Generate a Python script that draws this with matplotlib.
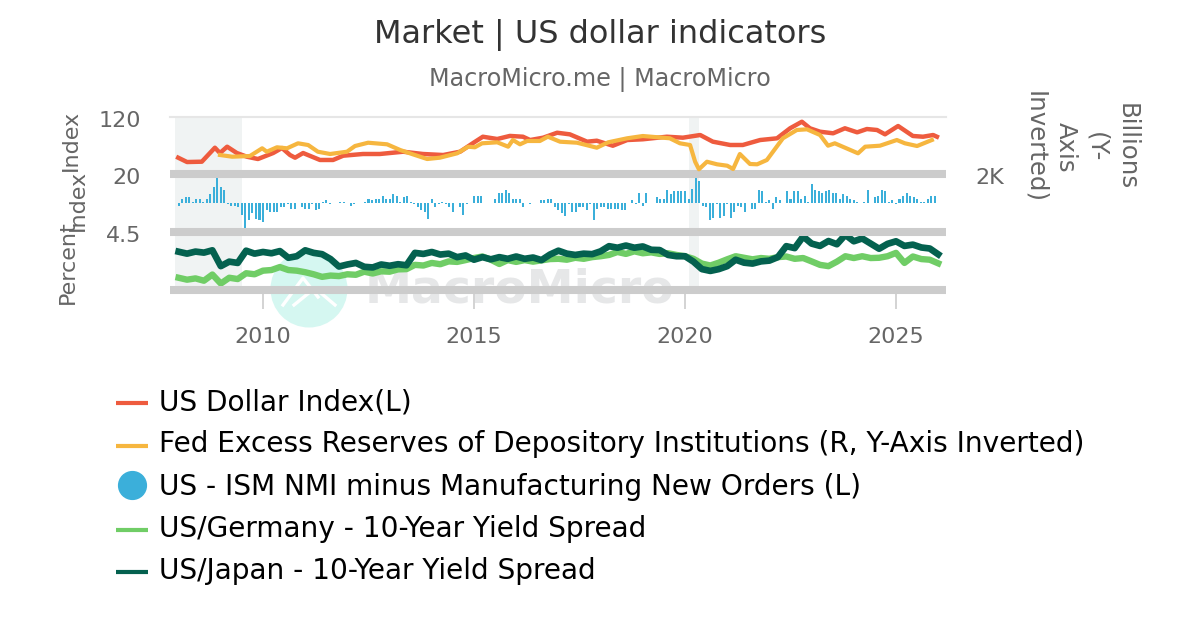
# Market | US dollar indicators, three stacked panels sharing one time axis
import numpy as np
import matplotlib
matplotlib.use("Agg")
import matplotlib.pyplot as plt
from matplotlib.lines import Line2D
from matplotlib.patches import Circle
from matplotlib.transforms import ScaledTranslation

# values, dates as decimal years
dxy_dates = [2007.99, 2008.20, 2008.55, 2008.86, 2008.98, 2009.15, 2009.38, 2009.62, 2009.88, 2010.24,
             2010.45, 2010.64, 2010.76, 2010.95, 2011.35, 2011.66, 2011.90, 2012.37, 2012.77, 2013.32,
             2013.79, 2014.27, 2014.67, 2014.98, 2015.21, 2015.55, 2015.85, 2016.16, 2016.33, 2016.64,
             2016.97, 2017.27, 2017.68, 2017.91, 2018.29, 2018.63, 2019.00, 2019.57, 2019.95, 2020.36,
             2020.66, 2021.07, 2021.37, 2021.78, 2022.18, 2022.49, 2022.77, 2022.96, 2023.20, 2023.51,
             2023.79, 2024.08, 2024.31, 2024.55, 2024.74, 2025.05, 2025.40, 2025.64, 2025.88, 2025.97]
dxy = [48.6, 41.0, 41.6, 66.1, 56.8, 67.9, 56.8, 50.3, 46.3, 56.8,
       65.6, 53.3, 48.6, 56.8, 44.6, 44.6, 52.1, 55.1, 55.1, 59.1,
       55.1, 53.3, 59.1, 74.4, 85.4, 81.4, 86.8, 85.4, 79.6, 83.7,
       92.4, 89.6, 76.7, 78.4, 69.6, 79.6, 80.9, 85.4, 83.7, 88.4,
       76.7, 70.9, 70.9, 79.6, 82.6, 100.2, 111.7, 100.2, 94.2, 91.4,
       100.2, 93.1, 98.9, 97.2, 89.6, 104.2, 86.7, 85.4, 88.4, 85.4]

res_dates = [2008.98, 2009.27, 2009.69, 2009.98, 2010.09, 2010.33, 2010.57, 2010.83, 2011.07, 2011.30,
             2011.59, 2011.99, 2012.18, 2012.49, 2012.94, 2013.25, 2013.55, 2013.89, 2014.19, 2014.60,
             2014.86, 2015.02, 2015.19, 2015.55, 2015.81, 2015.92, 2016.09, 2016.26, 2016.56, 2016.75,
             2017.04, 2017.44, 2017.91, 2018.18, 2018.63, 2019.00, 2019.64, 2019.88, 2020.12, 2020.24,
             2020.33, 2020.52, 2020.76, 2021.00, 2021.14, 2021.30, 2021.54, 2021.71, 2021.94, 2022.32,
             2022.65, 2022.89, 2023.20, 2023.39, 2023.55, 2024.10, 2024.27, 2024.62, 2025.02, 2025.21,
             2025.50, 2025.85]
reserves = [1333, 1393, 1369, 1098, 1218, 1063, 1098, 923, 983, 1218,
            1298, 1218, 1018, 902, 958, 1158, 1309, 1474, 1428, 1274,
            1042, 1063, 923, 888, 1042, 807, 958, 842, 842, 691,
            867, 902, 1077, 888, 747, 667, 747, 923, 983, 1569,
            1835, 1569, 1660, 1709, 1825, 1298, 1649, 1660, 1509, 747,
            456, 432, 632, 1007, 923, 1274, 1042, 1007, 807, 923,
            1018, 807]

# ISM spread, one value per month from Jan 2008 to Dec 2025
ism_start = 2008.0
ism = [-2, 3, 4, 4, 1, 3, 3, 1, 3, 6, 11, 17,
       11, 9, -1, -2, -2, -3, -8, -17, -12, -7, -11, -12,
       -13, -5, -6, -6, -6, -3, -3, -1, -4, -4, 0, -3,
       -4, -4, -1, -5, -4, 1, 2, -1, 0, 0, 1, 1,
       0, -2, -1, 0, 0, 1, 3, 2, 3, 3, 5, 3,
       3, 6, 5, 1, 4, 5, 1, -1, -3, -5, -6, -11,
       3, -3, -1, 1, -1, -3, -6, 0, -3, -8, -1, 0,
       5, 5, 5, 0, 0, 0, 3, 7, 7, 9, 7, 3,
       3, 3, -3, 0, -1, 0, 0, 2, 2, 3, 3, -3,
       -5, -7, -9, -1, -6, -6, -3, -3, -5, -1, -12, -4,
       -3, -3, -4, -4, -4, -4, -5, -5, 0, 2, -1, 7,
       -2, 7, 0, 0, 4, 3, 3, 9, 6, 8, 8, 8,
       8, 3, 10, 17, 15, -2, -3, -12, -10, -1, -10, -9,
       -1, -10, -6, -2, -3, -6, 0, -4, -4, 9, 8, 1,
       2, -4, 4, 2, 0, 8, 3, 8, 8, 3, 5, 1,
       13, 9, 8, 7, 8, 9, 7, 7, 3, 6, 5, 3,
       2, 1, 0, 1, 9, 0, 4, 5, 9, 8, 1, 2,
       -1, 3, 5, 7, 5, 4, 3, 1, 1, 3, 5, 5]

# both yield spreads, read every 0.2 years from 2008.0
spread_start = 2008.0
spread_step = 0.2
japan = [2.97, 2.82, 2.98, 2.90, 3.08, 1.85, 2.20, 2.10, 3.05, 2.82,
         2.95, 2.85, 3.02, 2.50, 2.62, 3.08, 2.88, 2.78, 2.40, 1.82,
         1.98, 2.10, 1.80, 1.75, 1.98, 1.88, 2.00, 1.92, 2.88, 2.80,
         2.95, 2.75, 2.82, 2.55, 2.68, 2.35, 2.55, 2.38, 2.55, 2.42,
         2.60, 2.42, 2.52, 2.32, 2.75, 3.05, 2.82, 2.72, 2.82, 2.78,
         3.00, 3.40, 3.28, 3.45, 3.28, 3.38, 3.12, 3.10, 2.72, 2.62,
         2.62, 2.20, 1.62, 1.48, 1.62, 1.85, 2.35, 2.12, 2.05, 2.22,
         2.28, 2.55, 3.40, 3.25, 4.15, 3.60, 3.42, 3.80, 3.55, 4.28,
         3.78, 4.00, 3.60, 3.20, 3.58, 3.78, 3.42, 3.52, 3.30, 3.22,
         2.77]
germany = [0.95, 0.80, 0.90, 0.72, 1.20, 0.50, 0.95, 0.85, 1.30, 1.22,
           1.50, 1.55, 1.78, 1.55, 1.50, 1.38, 1.22, 1.02, 1.12, 1.08,
           1.22, 1.18, 1.42, 1.28, 1.45, 1.42, 1.60, 1.62, 1.95, 1.90,
           2.10, 2.00, 2.22, 2.18, 2.32, 2.48, 2.60, 2.35, 2.02, 2.32,
           2.18, 2.32, 2.20, 2.30, 2.40, 2.42, 2.35, 2.50, 2.42, 2.55,
           2.62, 2.72, 2.95, 2.80, 3.00, 2.85, 2.92, 2.80, 2.85, 2.72,
           2.62, 2.42, 2.05, 1.90, 2.12, 2.38, 2.62, 2.50, 2.38, 2.48,
           2.42, 2.55, 2.60, 2.42, 2.48, 2.22, 1.95, 1.85, 2.20, 2.62,
           2.48, 2.62, 2.48, 2.50, 2.62, 2.88, 2.10, 2.60, 2.40, 2.35,
           2.07]

recessions = [(2007.92, 2009.50), (2020.10, 2020.33)]
year_ticks = [2010, 2015, 2020, 2025]

RED, YELLOW, BLUE = "#ee5b3e", "#f6b63f", "#3bafda"
LIGHT, DARK = "#70cd66", "#04614f"
BAND = "#cccccc"
SHADE = "#f0f3f3"
TXT = "#666666"
W, H = 1200, 630

fig = plt.figure(figsize=(12, 6.3), dpi=100)


def panel(top, bottom, z):
    # pixel rows of the reference to figure fractions
    return fig.add_axes([170 / W, 1 - bottom / H, 776 / W, (bottom - top) / H], zorder=z)


def nudge_labels(ax):
    # tick labels sit 2px under their gridline in the original
    shift = ScaledTranslation(0, -1.4 / 72, fig.dpi_scale_trans)
    for lab in ax.get_yticklabels():
        lab.set_transform(lab.get_transform() + shift)


# watermark sits behind the chart
bg = fig.add_axes([0, 0, 1, 1], zorder=-1)
bg.set_xlim(0, W)
bg.set_ylim(H, 0)
bg.axis("off")
bg.add_patch(Circle((309, 289), 38.5, color="#d5f7f1", lw=0))
bg.plot([283, 303, 318], [305, 278, 297], color="white", lw=2.4)
bg.plot([294, 315, 335], [305, 288, 305], color="white", lw=2.4)
bg.text(519, 290, "MacroMicro", fontsize=34, fontweight="bold", color="#e6e7e8",
        ha="center", va="center")

# upper panels on top so their grey baselines are not covered by the shading below
ax_top = panel(117, 174, 3)
ax_mid = panel(174, 232, 2)
ax_low = panel(232, 290, 1)
axes = [ax_top, ax_mid, ax_low]

for ax in axes:
    ax.patch.set_alpha(0)
    ax.set_xlim(2007.796, 2026.185)
    for a, b in recessions:
        ax.axvspan(a, b, color=SHADE, lw=0, zorder=0)
    for s in ["top", "left", "right"]:
        ax.spines[s].set_visible(False)
    ax.spines["bottom"].set_color(BAND)
    ax.spines["bottom"].set_linewidth(5.8)
    ax.spines["bottom"].set_capstyle("butt")
    ax.spines["bottom"].set_zorder(5)
    ax.tick_params(axis="y", length=0, pad=21, labelsize=16, labelcolor=TXT)
    ax.set_xticks([])

ax_top.set_ylim(20, 120)
ax_top.set_yticks([120])
ax_top.grid(axis="y", color="#e6e6e6", lw=1.5, clip_on=False)
ax_top.plot(dxy_dates, dxy, color=RED, lw=3.2, zorder=3)
ax_right = ax_top.twinx()
ax_right.patch.set_alpha(0)
ax_right.set_ylim(2000, 0)
ax_right.set_yticks([2000])
ax_right.set_yticklabels(["2K"])
ax_right.tick_params(axis="y", length=0, pad=21, labelsize=16, labelcolor=TXT)
for s in ax_right.spines.values():
    s.set_visible(False)
ax_right.plot(res_dates, reserves, color=YELLOW, lw=3, zorder=4)

ism_dates = ism_start + np.arange(len(ism)) / 12
ax_mid.set_ylim(-20, 20)
ax_mid.set_yticks([20])
ax_mid.bar(ism_dates, ism, width=0.048, color=BLUE, lw=0, zorder=3)

spread_dates = spread_start + np.arange(len(japan)) * spread_step
ax_low.set_ylim(0, 4.5)
ax_low.set_yticks([4.5])
ax_low.plot(spread_dates, germany, color=LIGHT, lw=4.6, zorder=3)
ax_low.plot(spread_dates, japan, color=DARK, lw=4.8, zorder=4)
ax_low.set_xticks(year_ticks)
ax_low.tick_params(axis="x", length=14, width=1.2, color=BAND, pad=12.5, labelsize=16, labelcolor=TXT)

for ax in [ax_top, ax_mid, ax_low, ax_right]:
    nudge_labels(ax)

fig.text(600 / W, 1 - 35 / H, "Market | US dollar indicators", fontsize=23, color="#333333",
         ha="center", va="center")
fig.text(600 / W, 1 - 80 / H, "MacroMicro.me | MacroMicro", fontsize=17.2, color=TXT,
         ha="center", va="center")

# axis titles overlap in the original too
fig.text(71 / W, 1 - 140 / H, "Index", fontsize=16, color=TXT, rotation=90, ha="center", va="center")
fig.text(78 / W, 1 - 200 / H, "Index", fontsize=16, color=TXT, rotation=90, ha="center", va="center")
fig.text(68 / W, 1 - 262 / H, "Percent", fontsize=16, color=TXT, rotation=90, ha="center", va="center")
fig.text(1081 / W, 1 - 147 / H, "Billions\n(Y-\nAxis\nInverted)", fontsize=17.6, color=TXT, rotation=270,
         ha="center", va="center", multialignment="center", linespacing=1.34)

handles = [
    Line2D([], [], color=RED, lw=3, solid_capstyle="butt"),
    Line2D([], [], color=YELLOW, lw=3, solid_capstyle="butt"),
    Line2D([], [], color=BLUE, marker="o", ms=20, ls="none"),
    Line2D([], [], color=LIGHT, lw=3, solid_capstyle="butt"),
    Line2D([], [], color=DARK, lw=3, solid_capstyle="butt"),
]
labels = [
    "US Dollar Index(L)",
    "Fed Excess Reserves of Depository Institutions (R, Y-Axis Inverted)",
    "US - ISM NMI minus Manufacturing New Orders (L)",
    "US/Germany - 10-Year Yield Spread",
    "US/Japan - 10-Year Yield Spread",
]
leg = fig.legend(handles, labels, loc="upper left", bbox_to_anchor=(116 / W, 1 - 388 / H), frameon=False,
                 fontsize=20.15, handlelength=1.15, handletextpad=0.4, labelspacing=0.51,
                 borderpad=0, borderaxespad=0)
# line samples sit a little under the text centre, the dot does not
for i, h in enumerate(leg.legend_handles):
    if i != 2:
        h.set_ydata(np.asarray(h.get_ydata()) - 2.2)

fig.savefig("out.png", dpi=100)
